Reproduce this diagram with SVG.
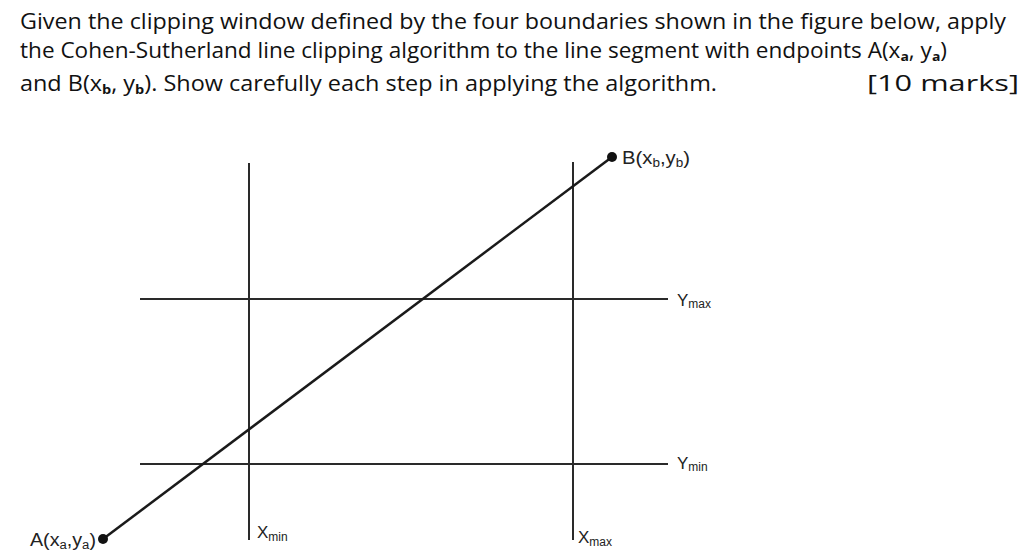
<svg xmlns="http://www.w3.org/2000/svg" width="1024" height="559" viewBox="0 0 1024 559">
<style>
.q{font-family:"Open Sans","Liberation Sans",sans-serif;font-size:21px;fill:#111}
.sb{font-size:13px;font-weight:bold}
.lbl{font-family:"Liberation Sans Narrow","Liberation Sans","DejaVu Sans",sans-serif;font-size:17px;fill:#222}
.big{font-size:18px}
.ls{font-size:12px}
.bd{stroke:#2a2a2a;stroke-width:2;fill:none}
.seg{stroke:#1a1a1a;stroke-width:2.5;fill:none}
.pt{fill:#111}
</style>
<rect width="1024" height="559" fill="#fff"/>
<g id="question">
<text class="q" x="20" y="29" textLength="986" lengthAdjust="spacingAndGlyphs">Given the clipping window defined by the four boundaries shown in the figure below, apply</text>
<text class="q" x="20" y="58" textLength="927" lengthAdjust="spacingAndGlyphs">the Cohen-Sutherland line clipping algorithm to the line segment with endpoints A(x<tspan class="sb" dy="3">a</tspan><tspan dy="-3">, y</tspan><tspan class="sb" dy="3">a</tspan><tspan dy="-3">)</tspan></text>
<text class="q" x="20" y="91" textLength="697" lengthAdjust="spacingAndGlyphs">and B(x<tspan class="sb" dy="3">b</tspan><tspan dy="-3">, y</tspan><tspan class="sb" dy="3">b</tspan><tspan dy="-3">).  Show carefully each step in applying the algorithm.</tspan></text>
<text class="q" x="867" y="91" textLength="152" lengthAdjust="spacingAndGlyphs">[10 marks]</text>
</g>
<g id="xmin">
<line class="bd" x1="249" y1="163" x2="249" y2="540"/>
<text class="lbl" x="257" y="538">X<tspan class="ls" dy="3">min</tspan></text>
</g>
<g id="xmax">
<line class="bd" x1="573" y1="162" x2="573" y2="540"/>
<text class="lbl" x="578" y="543">X<tspan class="ls" dy="3">max</tspan></text>
</g>
<g id="ymax">
<line class="bd" x1="140" y1="299" x2="668" y2="299"/>
<text class="lbl" x="677" y="306">Y<tspan class="ls" dy="2">max</tspan></text>
</g>
<g id="ymin">
<line class="bd" x1="140" y1="464" x2="668" y2="464"/>
<text class="lbl" x="677" y="469">Y<tspan class="ls" dy="2">min</tspan></text>
</g>
<g id="connectors">
<line class="seg" x1="103" y1="539" x2="612" y2="157"/>
</g>
<g id="pointA">
<circle class="pt" cx="103" cy="539" r="5"/>
<text class="lbl big" x="30" y="546" textLength="66" lengthAdjust="spacingAndGlyphs">A(x<tspan class="ls" dy="3">a</tspan><tspan dy="-3">,y</tspan><tspan class="ls" dy="3">a</tspan><tspan dy="-3">)</tspan></text>
</g>
<g id="pointB">
<circle class="pt" cx="612" cy="157" r="5"/>
<text class="lbl big" x="622" y="164" textLength="68" lengthAdjust="spacingAndGlyphs">B(x<tspan class="ls" dy="3">b</tspan><tspan dy="-3">,y</tspan><tspan class="ls" dy="3">b</tspan><tspan dy="-3">)</tspan></text>
</g>
</svg>
